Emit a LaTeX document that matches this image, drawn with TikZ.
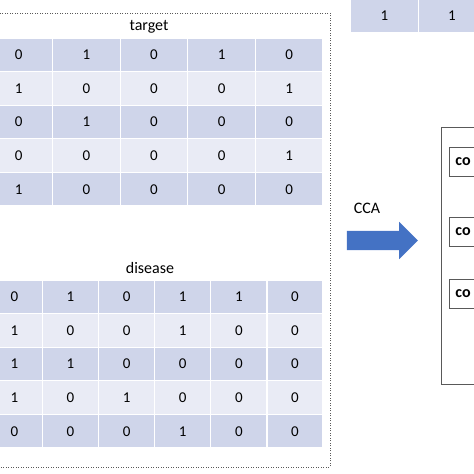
\documentclass[tikz,border=0pt]{standalone}
\usepackage{fontspec}
\setmainfont{Carlito}
\usetikzlibrary{shapes.arrows}

\definecolor{rowdark}{HTML}{CFD5EA}
\definecolor{rowlight}{HTML}{E9EBF5}
\definecolor{ccablue}{HTML}{4472C4}
\definecolor{framegray}{HTML}{595959}

\tikzset{
  cell/.style={draw=white, line width=1.2pt, inner sep=0pt,
    font=\fontsize{15}{18}\selectfont},
  tabtitle/.style={font=\fontsize{16}{19}\selectfont},
  framedots/.style={framegray, line width=0.9pt, dash pattern=on 0.9pt off 1.6pt},
  outbox/.style={draw=framegray, line width=0.8pt},
  compbox/.style={draw=framegray, line width=0.9pt, anchor=north west,
    minimum height=29pt, text width=48pt, inner xsep=6pt,
    align=left, font=\bfseries\fontsize{16}{19}\selectfont},
  ccaarrow/.style={shape=single arrow, fill=ccablue, draw=none,
    inner sep=9.5pt, single arrow head extend=9pt, minimum height=71pt}
}

\begin{document}
\begin{tikzpicture}[x=1pt, y=-1pt]

    \useasboundingbox (0,0) rectangle (474,474);
    \clip (0,0) rectangle (474,474);

    % cell sizes
    \def\tw{67.6} % target column width
    \def\dw{56.1} % disease column width
    \def\th{33.6} % row height

    % Dotted frame round both tables
    \draw[framedots] (-5,13) rectangle (330,467);

    % target table
    \node[tabtitle] (target) at (149,27) {target};
    \foreach \row [count=\r] in {{0,1,0,1,0},{1,0,0,0,1},{0,1,0,0,0},{0,0,0,0,1},{1,0,0,0,0}} {
        \ifodd\r \def\rowfill{rowdark}\else \def\rowfill{rowlight}\fi
        \foreach \v [count=\c] in \row
            \node[cell, fill=\rowfill, minimum width=\tw, minimum height=\th]
                (t-\r-\c) at ({-15+\tw*(\c-0.5)}, {38+\th*(\r-0.5)}) {\v};
    }

    % disease table
    \node[tabtitle] (disease) at (150,268) {disease};
    \foreach \row [count=\r] in {{0,1,0,1,1,0},{1,0,0,1,0,0},{1,1,0,0,0,0},{1,0,1,0,0,0},{0,0,0,1,0,0}} {
        \ifodd\r \def\rowfill{rowdark}\else \def\rowfill{rowlight}\fi
        \foreach \v [count=\c] in \row
            \node[cell, fill=\rowfill, minimum width=\dw, minimum height=\th]
                (d-\r-\c) at ({-13.6+\dw*(\c-0.5)}, {280+\th*(\r-0.5)}) {\v};
    }

    % top right row
    \node[cell, fill=rowdark, minimum width=\tw, minimum height=\th] (v-1) at (384.5,16) {1};
    \node[cell, fill=rowdark, minimum width=\tw, minimum height=\th] (v-2) at (452,16) {1};

    % CCA arrow
    \node[ccaarrow] (cca) at (377.5,240.5) {};
    \node[tabtitle] (ccalabel) at (367,208) {CCA};

    % output box
    \draw[outbox] (441,127) rectangle (495,384);
    \node[compbox] (co-1) at (449,147) {co};
    \node[compbox] (co-2) at (449,217) {co};
    \node[compbox] (co-3) at (449,279) {co};

\end{tikzpicture}
\end{document}
